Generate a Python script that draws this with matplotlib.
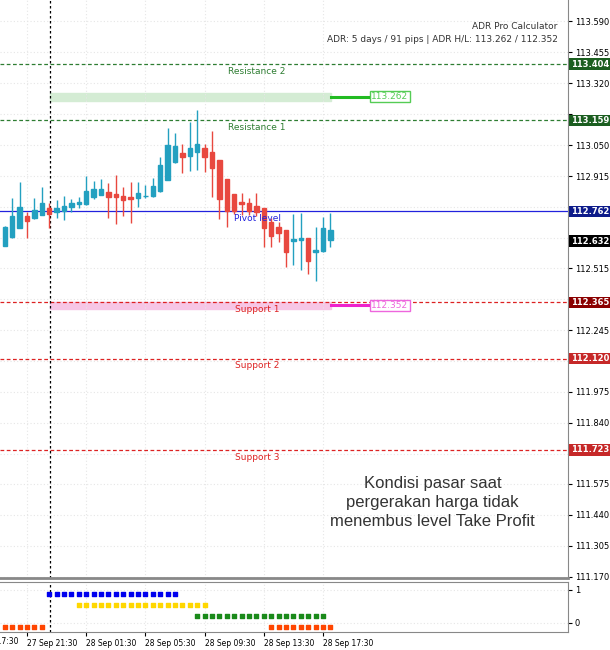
import matplotlib
matplotlib.use("Agg")
import matplotlib.pyplot as plt
from matplotlib.patches import Rectangle

opens  = [112.613,112.652,112.688,112.742,112.732,112.746,112.775,112.761,112.765,112.779,112.794,112.792,112.823,112.833,112.848,112.836,112.830,112.826,112.819,112.827,112.830,112.852,112.898,112.975,113.015,113.003,113.022,113.039,113.019,112.986,112.901,112.838,112.804,112.800,112.785,112.775,112.717,112.695,112.681,112.634,112.637,112.644,112.586,112.591,112.637]
highs  = [112.698,112.819,112.891,112.761,112.819,112.867,112.797,112.811,112.830,112.816,112.823,112.916,112.896,112.903,112.887,112.920,112.869,112.888,112.888,112.877,112.906,112.997,113.124,113.102,113.054,113.153,113.203,113.054,113.113,112.986,112.901,112.838,112.843,112.819,112.843,112.775,112.732,112.717,112.681,112.750,112.753,112.644,112.695,112.739,112.756]
lows   = [112.613,112.644,112.688,112.644,112.727,112.746,112.688,112.732,112.724,112.761,112.775,112.788,112.816,112.833,112.732,112.707,112.742,112.713,112.779,112.819,112.826,112.848,112.898,112.971,112.928,112.939,112.942,112.935,112.826,112.727,112.692,112.749,112.746,112.746,112.742,112.605,112.608,112.630,112.521,112.528,112.506,112.489,112.460,112.586,112.608]
closes = [112.695,112.742,112.782,112.721,112.768,112.800,112.749,112.775,112.785,112.797,112.801,112.852,112.858,112.861,112.823,112.823,112.811,112.816,112.840,112.830,112.872,112.964,113.051,113.047,112.997,113.036,113.055,112.997,112.949,112.814,112.764,112.764,112.794,112.765,112.761,112.688,112.655,112.669,112.586,112.642,112.644,112.547,112.594,112.688,112.681]

level_names  = ["Resistance 2","Resistance 1","Pivot level","Support 1","Support 2","Support 3"]
level_values = [113.404,113.159,112.762,112.365,112.120,111.723]
level_colors = ["#2e7d32","#2e7d32","#2222dd","#dd2222","#dd2222","#dd2222"]
level_bg     = ["#1b5e20","#1b5e20","#0d1b8a","#8b0000","#c62828","#c62828"]
current_price = 112.632
adr_high, adr_low = 113.262, 112.352

price_ticks = [113.590,113.455,113.320,113.185,113.050,112.915,112.780,112.645,112.515,112.380,112.245,112.110,111.975,111.840,111.705,111.575,111.440,111.305,111.170]
time_labels = ["27 Sep 17:30","27 Sep 21:30","28 Sep 01:30","28 Sep 05:30","28 Sep 09:30","28 Sep 13:30","28 Sep 17:30"]
time_pos = [-5,3,11,19,27,35,43]

sig_rows = [  # (indices, level, color)
    (list(range(6,24)), 0.88, "#0000ee"),
    (list(range(10,28)), 0.55, "#ffd700"),
    (list(range(26,44)), 0.21, "#1a8a1a"),
    (list(range(0,6))+list(range(36,45)), -0.12, "#ff4500"),
]

fig = plt.figure(figsize=(6.1,6.5), dpi=100)
ax = fig.add_axes([0,0.111,0.931,0.889])
ax2 = fig.add_axes([0,0.028,0.931,0.077])
xmin, xmax = -0.64, 76.1
for a in (ax, ax2):
    a.set_xticks(time_pos[1:])
    a.set_xlim(xmin, xmax)
    a.grid(True, color="#e6e6e6", linestyle=(0,(1,2)), linewidth=0.8)
    a.tick_params(axis="y", which="both", right=True, left=False, labelright=True, labelleft=False, labelsize=6, length=3, pad=2)
    for s in a.spines.values():
        s.set_color("#888888")
    a.spines["left"].set_visible(False)
ax.set_ylim(111.165, 113.683)
ax.set_yticks(price_ticks)
marks = level_values + [current_price]
ax.set_yticklabels(["" if min(abs(v-m) for m in marks) < 0.03 else f"{v:.3f}" for v in price_ticks])
ax.tick_params(axis="x", labelbottom=False, length=0)
ax.spines["bottom"].set_linewidth(2)
ax.spines["top"].set_visible(False)

up, dn = "#23a0c0", "#e8483f"
for i,(o,h,l,c) in enumerate(zip(opens,highs,lows,closes)):
    col = up if c >= o else dn
    ax.vlines(i, l, h, color=col, linewidth=1, zorder=3)
    b = max(abs(c-o), 0.004)
    ax.add_patch(Rectangle((i-0.3, min(o,c)), 0.6, b, color=col, zorder=4))

for n,v,c,bg in zip(level_names, level_values, level_colors, level_bg):
    if n == "Pivot level":
        ax.axhline(v, color=c, linewidth=0.9, zorder=2)
    else:
        ax.axhline(v, color=c, linewidth=0.9, linestyle=(0,(3,2)), zorder=2)
    ax.text(34.1, v-0.012, n, color=c, fontsize=6.5, ha="center", va="top", zorder=5)
    ax.text(1.005, v, f"{v:.3f}", transform=ax.get_yaxis_transform(), fontsize=6, color="white",
            ha="left", va="center", fontweight="bold", bbox=dict(boxstyle="square,pad=0.15", fc=bg, ec="none"), clip_on=False, zorder=6)
ax.text(1.005, current_price, f"{current_price:.3f}", transform=ax.get_yaxis_transform(), fontsize=6, color="white",
        ha="left", va="center", fontweight="bold", bbox=dict(boxstyle="square,pad=0.15", fc="black", ec="none"), clip_on=False, zorder=6)

ax.axvline(6.1, color="black", linestyle=(0,(2,2)), linewidth=0.9)
ax2.axvline(6.1, color="black", linestyle=(0,(2,2)), linewidth=0.9)

# ADR bands
ax.add_patch(Rectangle((6.1, adr_high-0.017), 38, 0.034, color="#d4ecd4", zorder=1))
ax.plot([44.1, 49.1], [adr_high, adr_high], color="#22bb22", linewidth=2.2, zorder=5)
ax.text(49.5, adr_high, f"{adr_high:.3f}", color="#55cc55", fontsize=6.5, va="center", ha="left",
        bbox=dict(boxstyle="square,pad=0.15", fc="white", ec="#55cc55"))
ax.add_patch(Rectangle((6.1, adr_low-0.017), 38, 0.034, color="#f7c6e6", zorder=1))
ax.plot([44.1, 49.1], [adr_low, adr_low], color="#ee22cc", linewidth=2.2, zorder=5)
ax.text(49.5, adr_low, f"{adr_low:.3f}", color="#ee66dd", fontsize=6.5, va="center", ha="left",
        bbox=dict(boxstyle="square,pad=0.15", fc="white", ec="#ee66dd"))

ax.text(0.982, 0.955, "ADR Pro Calculator", transform=ax.transAxes, ha="right", va="center", fontsize=6.5, color="#333333")
ax.text(0.982, 0.932, f"ADR: 5 days / 91 pips | ADR H/L: {adr_high:.3f} / {adr_low:.3f}", transform=ax.transAxes,
        ha="right", va="center", fontsize=6.5, color="#333333")
ax.text(0.762, 0.13, "Kondisi pasar saat\npergerakan harga tidak\nmenembus level Take Profit", transform=ax.transAxes,
        ha="center", va="center", fontsize=12, color="#333333", linespacing=1.35, family="Liberation Sans")

# lower panel
ax2.set_ylim(-0.27, 1.24)
ax2.set_yticks([0, 1])
ax2.set_yticklabels(["0", "1"])
ax2.set_xticklabels(time_labels[1:], fontsize=5.5, ha="left")
ax2.tick_params(axis="x", length=3, pad=2)
ax2.text(time_pos[0], -0.1, time_labels[0], transform=ax2.get_xaxis_transform(), fontsize=5.5,
         ha="left", va="top", clip_on=False)
for idx, lvl, col in sig_rows:
    ax2.scatter(idx, [lvl]*len(idx), marker="s", s=9, color=col, zorder=3)

fig.savefig("out.png", dpi=100)
